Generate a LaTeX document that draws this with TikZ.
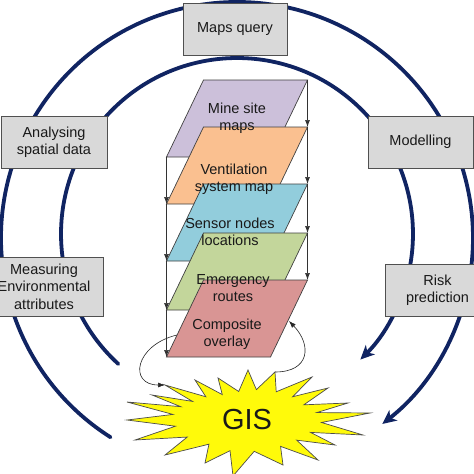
\documentclass[tikz,border=0pt]{standalone}
\usepackage{fontspec}
\setmainfont{Liberation Sans}
\usetikzlibrary{arrows.meta,calc}
\definecolor{navy}{RGB}{16,36,98}
\definecolor{boxgray}{RGB}{217,217,217}
\definecolor{boxline}{RGB}{80,80,80}
\definecolor{lavender}{RGB}{204,192,218}
\definecolor{peach}{RGB}{250,192,144}
\definecolor{skyb}{RGB}{146,205,220}
\definecolor{sage}{RGB}{195,214,155}
\definecolor{rose}{RGB}{217,149,148}
\definecolor{gisyellow}{RGB}{255,250,10}
\definecolor{txt}{RGB}{25,25,25}
\tikzset{
  ring/.style={draw=navy, line width=3.8pt, line cap=round},
  ringarrow/.style={ring, -{Stealth[length=14pt,width=13pt,inset=4pt]}},
  graybox/.style={draw=boxline, fill=boxgray, line width=0.9pt, align=center, inner sep=0pt,
    font=\fontsize{14.5}{17.4}\selectfont, text=txt},
  layer/.style={draw=black!75, line width=0.7pt},
  layertext/.style={align=center, inner sep=0pt, font=\fontsize{14.5}{17.4}\selectfont, text=txt},
  flow/.style={draw=black!80, line width=0.7pt, -{Latex[length=7pt,width=5pt]}},
  link/.style={draw=black!85, line width=0.6pt, -{Latex[length=7pt,width=5pt]}},
}
\newcommand\mylayer[4]{%
  \coordinate (#1tr) at (#2,#3);
  \coordinate (#1tl) at (#2-104,#3);
  \coordinate (#1bl) at (#2-141,#3+77);
  \coordinate (#1br) at (#2-37,#3+77);
  \draw[layer, fill=#4] (#1tl) -- (#1tr) -- (#1br) -- (#1bl) -- cycle;}
\begin{document}
\begin{tikzpicture}[x=1pt,y=-1pt]
\useasboundingbox (0,0) rectangle (474,474);
\clip (0,0) rectangle (474,474);
\fill[white] (0,0) rectangle (474,474);
% rings
\draw[ringarrow] (237,238) ++(122.4:236) arc[start angle=122.4, end angle=412, radius=236];
\draw[ringarrow] (237,234) ++(132.4:176) arc[start angle=132.4, end angle=405.5, radius=176];
% boxes
\node[graybox, minimum width=104pt, minimum height=52pt] (query) at (235,29) {Maps query};
\node[graybox, minimum width=106pt, minimum height=52pt] (analyse) at (54,142) {Analysing\\spatial data};
\node[graybox, minimum width=105pt, minimum height=52pt] (model) at (420.5,142) {Modelling};
\node[graybox, minimum width=118pt, minimum height=59pt] (measure) at (44,286.5) {Measuring\\Environmental\\attributes};
\node[graybox, minimum width=105pt, minimum height=52pt] (risk) at (437.5,290) {Risk\\prediction};
% layers
\mylayer{mine}{307.5}{80}{lavender}
\mylayer{vent}{307.5}{127}{peach}
\mylayer{sens}{307.5}{184}{skyb}
\mylayer{emer}{307.5}{233}{sage}
\mylayer{comp}{307.5}{280}{rose}
\node[layertext] (minetxt) at (237,118) {Mine site\\maps};
\node[layertext] (venttxt) at (234,179) {Ventilation\\system map};
\node[layertext] (senstxt) at (230,232) {Sensor nodes\\locations};
\node[layertext] (emertxt) at (233,288) {Emergency\\routes};
\node[layertext] (comptxt) at (227,334) {Composite\\overlay};
% flow arrows
\draw[flow] (minetr) -- (venttr);
\draw[flow] (venttr) -- (senstr);
\draw[flow] (senstr) -- (emertr);
\draw[flow] (emertr) -- (comptr);
\draw[flow] (minebl) -- (ventbl);
\draw[flow] (ventbl) -- (sensbl);
\draw[flow] (sensbl) -- (emerbl);
\draw[flow] (emerbl) -- (compbl);
% GIS star
\coordinate (C) at (248,420);
\foreach \px/\py [count=\i] in {248/370,275/372,312/377,328/388,348/403,370/413,363/435,335/445,318/460,283/465,233/476,205/463,165/455,135/440,127/420,127/402,152/395,165/385,195/380,218/378}
  \coordinate (t\i) at (\px,\py);
\foreach \i [evaluate=\i as \j using {int(mod(\i,20)+1)}] in {1,...,20} {
  \coordinate (m\i) at ($(t\i)!0.5!(t\j)$);
  \coordinate (v\i) at ($(C)!0.62!(m\i)$);
}
\draw[draw=black!70, line width=0.7pt, fill=gisyellow, line join=miter]
  (t1) \foreach \i [evaluate=\i as \j using {int(mod(\i,20)+1)}] in {1,...,20} { -- (v\i) -- (t\j) } -- cycle;
\node[font=\fontsize{29}{34}\selectfont, text=txt] (gis) at (247,420) {GIS};
% links
\coordinate (compL) at (177,335);
\coordinate (compR) at (289,321);
\coordinate (gisL) at (t18);
\coordinate (gisR) at (t2);
\draw[link] (compL) .. controls (135,345) and (128,385) .. (gisL);
\draw[link] (gisR) .. controls (310,372) and (312,345) .. (compR);
\end{tikzpicture}
\end{document}
